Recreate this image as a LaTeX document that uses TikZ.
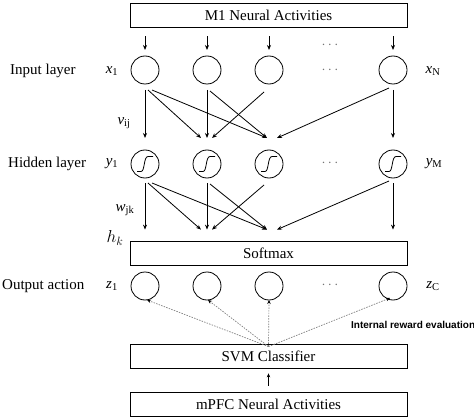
\documentclass[tikz,border=0pt]{standalone}
\usepackage{fontspec}
\setmainfont{Liberation Serif}
\newfontfamily\lsans{Liberation Sans}
\usetikzlibrary{arrows.meta,calc}
\begin{document}
\begin{tikzpicture}[x=1pt,y=-1pt,
  font=\fontsize{15}{18}\selectfont,
  box/.style={draw,line width=0.8pt,minimum width=277pt,minimum height=24pt,inner sep=0pt},
  neuron/.style={draw,circle,line width=0.8pt,minimum size=28pt,inner sep=0pt},
  arr/.style={line width=0.8pt,-{Stealth[length=5pt,width=4pt]}},
  dotarr/.style={draw=black!50,line width=0.7pt,dash pattern=on 1.5pt off 1.2pt,-{Stealth[length=4pt,width=3.5pt,color=black]}},
  lbl/.style={inner sep=0pt,anchor=west},
  dots/.style={text=black!55,inner sep=0pt},
  sig/.pic={\draw[line width=0.8pt] (-8,7.5) -- (-4,7.5) .. controls (0,7.5) and (-1.5,-7.5) .. (3,-7.5) -- (8,-7.5);}
]
\useasboundingbox (0,0) rectangle (474,417);

% boxes
\node[box] (m1) at (268.5,15) {M1 Neural Activities};
\node[box] (sm) at (268.5,253) {Softmax};
\node[box] (svm) at (268.5,356) {SVM Classifier};
\node[box] (mp) at (268.5,404) {mPFC Neural Activities};

% neurons
\foreach \n/\x in {1/145,2/207,3/269,4/393}{
  \node[neuron] (i\n) at (\x,70) {};
  \node[neuron] (h\n) at (\x,164) {};
  \node[neuron] (o\n) at (\x,286) {};
  \pic at (h\n) {sig};
  \draw[arr] ($(i\n|-m1.south)+(0,9)$) -- ($(i\n)+(0,-20)$);
}

% dots
\node[dots] (d0) at (330,45) {$\cdots$};
\node[dots] (d1) at (330,70) {$\cdots$};
\node[dots] (d2) at (330,163) {$\cdots$};
\node[dots] (d3) at (330,285) {$\cdots$};

% layer labels
\node[lbl] (l1) at (10,71) {Input layer};
\node[lbl] (l2) at (8,164) {Hidden layer};
\node[lbl] (l3) at (2,286) {Output action};

\node[inner sep=0pt] (x1) at (112,71) {\textit{x}\textsubscript{1}};
\node[inner sep=0pt] (xN) at (433,71) {\textit{x}\textsubscript{N}};
\node[inner sep=0pt] (y1) at (112,164) {\textit{y}\textsubscript{1}};
\node[inner sep=0pt] (yM) at (434,164) {\textit{y}\textsubscript{M}};
\node[inner sep=0pt] (z1) at (112,286) {\textit{z}\textsubscript{1}};
\node[inner sep=0pt] (zC) at (433,286) {\textit{z}\textsubscript{C}};
\node[inner sep=0pt] (vij) at (124,123) {\textit{v}\textsubscript{ij}};
\node[inner sep=0pt] (wjk) at (125,210) {\textit{w}\textsubscript{jk}};
\node[inner sep=0pt,font=\fontsize{18}{20}\selectfont] (hk) at (115,238) {$h_k$};

% input -> hidden
\draw[arr] ($(i1)+(0,20)$) -- ($(h1)+(0,-26)$);
\draw[arr] ($(i1)+(3,20)$) -- ($(h2)+(-6,-26)$);
\draw[arr] ($(i1)+(7,20)$) -- ($(h3)+(-2,-26)$);
\draw[arr] ($(i2)+(0,20)$) -- ($(h2)+(0,-26)$);
\draw[arr] ($(i2)+(3,21)$) -- ($(h3)+(-2,-26)$);
\draw[arr] ($(i3)+(-5,22)$) -- ($(h2)+(5,-26)$);
\draw[arr] ($(i4)+(-4,18)$) -- ($(h3)+(8,-26)$);
\draw[arr] ($(i4)+(0,20)$) -- ($(h4)+(0,-26)$);

% hidden -> softmax
\draw[arr] ($(h1)+(0,19)$) -- ($(h1|-sm.north)+(0,-11)$);
\draw[arr] ($(h1)+(3,19)$) -- ($(h2|-sm.north)+(-6,-11)$);
\draw[arr] ($(h1)+(7,19)$) -- ($(h3|-sm.north)+(-2,-11)$);
\draw[arr] ($(h2)+(0,19)$) -- ($(h2|-sm.north)+(0,-11)$);
\draw[arr] ($(h2)+(3,20)$) -- ($(h3|-sm.north)+(-2,-11)$);
\draw[arr] ($(h3)+(-5,21)$) -- ($(h2|-sm.north)+(5,-11)$);
\draw[arr] ($(h4)+(-4,17)$) -- ($(h3|-sm.north)+(8,-11)$);
\draw[arr] ($(h4)+(0,19)$) -- ($(h4|-sm.north)+(0,-11)$);

% SVM -> outputs
\draw[dotarr] ($(svm.north)+(0,3)$) -- ($(o1)+(2,14)$);
\draw[dotarr] ($(svm.north)+(0,3)$) -- ($(o2)+(1,14)$);
\draw[dotarr] ($(svm.north)+(0,3)$) -- ($(o3)+(0,14)$);
\draw[dotarr] ($(svm.north)+(0,3)$) -- ($(o4)+(-3,12)$);

\node[lbl,font=\lsans\bfseries\fontsize{10}{12}\selectfont] (ire) at (351,325) {Internal reward evaluation};

% mPFC -> SVM
\draw[line width=0.6pt,-{Stealth[length=4pt,width=3.5pt]}] ($(mp.north)+(0,-6)$) -- ($(svm.south)+(0,5)$);
\end{tikzpicture}
\end{document}
